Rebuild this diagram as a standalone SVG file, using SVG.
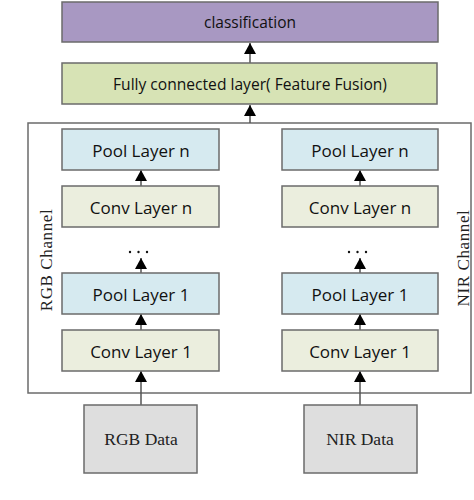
<svg xmlns="http://www.w3.org/2000/svg" width="474" height="500" viewBox="0 0 474 500">
<defs>
<marker id="ah" markerWidth="11" markerHeight="12" refX="11" refY="6" orient="auto" markerUnits="userSpaceOnUse" viewBox="0 0 11 12">
<path d="M11,6 L0,0 L0,12 Z" fill="#000"/>
</marker>
<style>
.box{stroke:#6b6b6b;stroke-width:1.5}
.cls{fill:#a898c2}
.fc{fill:#d7e3b5}
.pool{fill:#d6eaf0}
.conv{fill:#ebeede}
.data{fill:#dedede}
.t{font-family:"Open Sans","Liberation Sans",sans-serif;fill:#111;text-anchor:middle;dominant-baseline:central}
.s{font-family:"Liberation Serif","DejaVu Serif",serif;fill:#222;text-anchor:middle;dominant-baseline:central}
.ln{stroke:#555;stroke-width:1.5;fill:none}
</style>
</defs>
<rect width="474" height="500" fill="#fff"/>
<g id="container"><rect x="28" y="123" width="443" height="270" fill="none" class="box"/></g>
<g id="connectors">
<line class="ln" x1="250" y1="63" x2="250" y2="43" marker-end="url(#ah)"/>
<line class="ln" x1="250" y1="123" x2="250" y2="105" marker-end="url(#ah)"/>
<line class="ln" x1="141" y1="186" x2="141" y2="170" marker-end="url(#ah)"/>
<line class="ln" x1="360" y1="186" x2="360" y2="170" marker-end="url(#ah)"/>
<line class="ln" x1="141" y1="273" x2="141" y2="258" marker-end="url(#ah)"/>
<line class="ln" x1="360" y1="273" x2="360" y2="258" marker-end="url(#ah)"/>
<line class="ln" x1="141" y1="330" x2="141" y2="314" marker-end="url(#ah)"/>
<line class="ln" x1="360" y1="330" x2="360" y2="314" marker-end="url(#ah)"/>
<line class="ln" x1="141" y1="405" x2="141" y2="371" marker-end="url(#ah)"/>
<line class="ln" x1="360" y1="405" x2="360" y2="371" marker-end="url(#ah)"/>
</g>
<g id="classification"><rect x="62" y="2" width="376" height="40" class="box cls"/><text class="t" x="250" y="22" font-size="15.5">classification</text></g>
<g id="fc"><rect x="62" y="63" width="375" height="41" class="box fc"/><text class="t" x="250" y="84" font-size="15.6">Fully connected layer( Feature Fusion)</text></g>
<g id="pool-n-rgb"><rect x="62" y="129" width="157" height="41" class="box pool"/><text class="t" x="141" y="150" font-size="17">Pool Layer n</text></g>
<g id="pool-n-nir"><rect x="282" y="129" width="156" height="41" class="box pool"/><text class="t" x="360" y="150" font-size="17">Pool Layer n</text></g>
<g id="conv-n-rgb"><rect x="62" y="186" width="157" height="41" class="box conv"/><text class="t" x="141" y="207" font-size="17">Conv Layer n</text></g>
<g id="conv-n-nir"><rect x="282" y="186" width="156" height="41" class="box conv"/><text class="t" x="360" y="207" font-size="17">Conv Layer n</text></g>
<g id="dots-rgb"><circle cx="130" cy="252" r="1.2" fill="#111"/><circle cx="138.5" cy="252" r="1.2" fill="#111"/><circle cx="147" cy="252" r="1.2" fill="#111"/></g>
<g id="dots-nir"><circle cx="349" cy="252" r="1.2" fill="#111"/><circle cx="357.5" cy="252" r="1.2" fill="#111"/><circle cx="366" cy="252" r="1.2" fill="#111"/></g>
<g id="pool-1-rgb"><rect x="62" y="273" width="157" height="41" class="box pool"/><text class="t" x="141" y="294" font-size="17">Pool Layer 1</text></g>
<g id="pool-1-nir"><rect x="282" y="273" width="156" height="41" class="box pool"/><text class="t" x="360" y="294" font-size="17">Pool Layer 1</text></g>
<g id="conv-1-rgb"><rect x="62" y="330" width="157" height="41" class="box conv"/><text class="t" x="141" y="351" font-size="17">Conv Layer 1</text></g>
<g id="conv-1-nir"><rect x="282" y="330" width="156" height="41" class="box conv"/><text class="t" x="360" y="351" font-size="17">Conv Layer 1</text></g>
<g id="rgb-data"><rect x="84" y="405" width="113" height="68" class="box data"/><text class="s" x="141" y="439" font-size="17.5">RGB Data</text></g>
<g id="nir-data"><rect x="304" y="405" width="113" height="68" class="box data"/><text class="s" x="360" y="439" font-size="17.5">NIR Data</text></g>
<text class="s" font-size="17" letter-spacing="0.6" transform="translate(46,260) rotate(-90)">RGB Channel</text>
<text class="s" font-size="17" letter-spacing="0.6" transform="translate(463,258) rotate(-90)">NIR Channel</text>
</svg>
